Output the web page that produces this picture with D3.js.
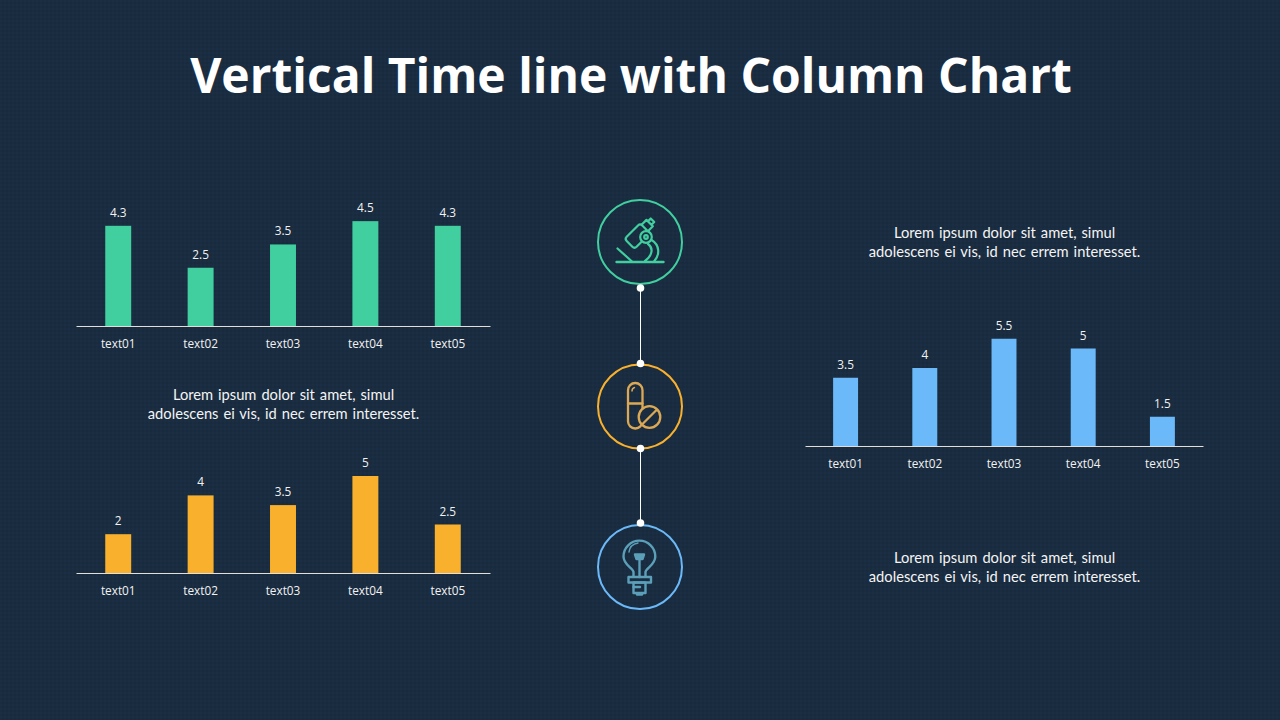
<!DOCTYPE html>
<html>
<head>
<meta charset="utf-8">
<title>Vertical Time line with Column Chart</title>
<script src="https://cdn.jsdelivr.net/npm/d3@7"></script>
<style>
    html, body { margin: 0; padding: 0; background: #1a2c40; }
    svg { display: block; }
    .label { font-family: "Open Sans", sans-serif; font-size: 11.8px; fill: #f2f2f2; }
    .blurb { font-family: Lato, sans-serif; font-size: 14.7px; fill: #f4f4f4; word-spacing: 1.2px; }
</style>
</head>
<body>
<svg id="chart" width="1280" height="720"></svg>
<script>
var categories = ["text01", "text02", "text03", "text04", "text05"];
var greenValues = [4.3, 2.5, 3.5, 4.5, 4.3];
var orangeValues = [2, 4, 3.5, 5, 2.5];
var blueValues = [3.5, 4, 5.5, 5, 1.5];
var blurbLines = ["Lorem  ipsum  dolor  sit amet,  simul", "adolescens ei vis, id nec errem  interesset."];

var GREEN = "#41cfa0", ORANGE = "#f9b12d", BLUE = "#6bb9f8";
var svg = d3.select("#chart");

// faint weave on the slide background
var pattern = svg.append("defs").append("pattern")
    .attr("id", "weave").attr("width", 4).attr("height", 4)
    .attr("patternUnits", "userSpaceOnUse");
pattern.append("rect").attr("width", 4).attr("height", 4).attr("fill", "#1a2c40");
pattern.append("rect").attr("width", 2).attr("height", 2).attr("fill", "#1c2e43");
pattern.append("rect").attr("x", 2).attr("y", 2).attr("width", 2).attr("height", 2).attr("fill", "#182a3d");
svg.append("rect").attr("width", 1280).attr("height", 720).attr("fill", "url(#weave)");

svg.append("text")
    .attr("x", 631).attr("y", 93)
    .attr("text-anchor", "middle")
    .style("font-family", '"Open Sans", sans-serif')
    .style("font-size", "48px")
    .style("font-weight", 700)
    .style("fill", "#ffffff")
    .text("Vertical Time line with Column Chart");

function drawColumns(values, color, x0, x1, baseline, pxPerUnit) {
    var x = d3.scaleBand().domain(categories).range([x0, x1]).paddingInner(0.685).paddingOuter(0.355);
    var y = d3.scaleLinear().domain([0, 6]).range([baseline, baseline - 6 * pxPerUnit]);

    svg.append("g").selectAll("rect").data(values).enter().append("rect")
        .attr("x", function(d, i){ return x(categories[i]); })
        .attr("y", function(d){ return y(d); })
        .attr("width", x.bandwidth())
        .attr("height", function(d){ return baseline - y(d); })
        .attr("fill", color);

    svg.append("g").selectAll("text").data(values).enter().append("text")
        .attr("class", "label")
        .attr("text-anchor", "middle")
        .attr("x", function(d, i){ return x(categories[i]) + x.bandwidth() / 2; })
        .attr("y", function(d){ return y(d) - 9; })
        .text(function(d){ return d; });

    var axis = svg.append("g")
        .attr("transform", "translate(0," + baseline + ")")
        .call(d3.axisBottom(x).tickSize(0).tickPadding(13.5));
    axis.select(".domain").attr("stroke", "#e2dfdb").attr("stroke-width", 1);
    axis.selectAll("text").attr("class", "label").attr("font-family", null).attr("font-size", null);
}

drawColumns(greenValues, GREEN, 76, 490, 326, 23.3);
drawColumns(orangeValues, ORANGE, 76, 490, 573, 19.4);
drawColumns(blueValues, BLUE, 805, 1203, 446, 19.5);

function drawBlurb(cx, y) {
    svg.append("g").selectAll("text").data(blurbLines).enter().append("text")
        .attr("class", "blurb")
        .attr("text-anchor", "middle")
        .attr("x", cx)
        .attr("y", function(d, i){ return y + i * 19; })
        .text(function(d){ return d; });
}

drawBlurb(283.5, 400);
drawBlurb(1004.5, 238);
drawBlurb(1004.5, 563);

// timeline in the middle
var timelineX = 640.5;
svg.append("line").attr("x1", timelineX).attr("x2", timelineX).attr("y1", 288).attr("y2", 364)
    .attr("stroke", "#ffffff").attr("stroke-width", 1);
svg.append("line").attr("x1", timelineX).attr("x2", timelineX).attr("y1", 448).attr("y2", 523)
    .attr("stroke", "#ffffff").attr("stroke-width", 1);

function ring(cy, color) {
    svg.append("circle").attr("cx", 640).attr("cy", cy).attr("r", 42)
        .attr("fill", "none").attr("stroke", color).attr("stroke-width", 2);
}
ring(242, GREEN);
ring(406.5, ORANGE);
ring(567, BLUE);

[288, 363.5, 448.5, 523].forEach(function(cy){
    svg.append("circle").attr("cx", timelineX).attr("cy", cy).attr("r", 3.8).attr("fill", "#ffffff");
});

function iconGroup(color, width) {
    return svg.append("g")
        .attr("fill", "none").attr("stroke", color).attr("stroke-width", width)
        .attr("stroke-linecap", "round").attr("stroke-linejoin", "round");
}

// microscope
var scope = iconGroup(GREEN, 2.2);
scope.append("path").attr("d", "M616.5 262H663.5").attr("stroke-width", 2.4);
scope.append("path").attr("d", "M617.5 248.5L632 261.5");
scope.append("g").attr("transform", "rotate(-45 638 234)").call(function(g){
    g.append("rect").attr("x", 625).attr("y", 228).attr("width", 22).attr("height", 14).attr("rx", 3);
    g.append("path").attr("d", "M647 230H654V239H647M654 232H658V237H654");
});
scope.append("circle").attr("cx", 646).attr("cy", 237).attr("r", 5.8).attr("fill", "#1a2c40");
scope.append("circle").attr("cx", 646).attr("cy", 237).attr("r", 1.8);
scope.append("path").attr("d", "M648 244C654 248 652 256 645 261");
scope.append("path").attr("d", "M651.5 240C660 245 660 255 654 261.5");

// capsule with tablet
var pill = iconGroup("#dba956", 2.3);
pill.append("rect").attr("x", 628).attr("y", 383).attr("width", 14.5).attr("height", 45.5).attr("rx", 7.2);
pill.append("path").attr("d", "M628 403.5H642.5");
pill.append("path").attr("d", "M632 391C632 389 633 388 634.5 387.5").attr("stroke-width", 1.5);
pill.append("circle").attr("cx", 649.5).attr("cy", 417).attr("r", 10.8).attr("fill", "#1a2c40");
pill.append("path").attr("d", "M643 423.5L656 410.5");

// light bulb
var bulb = iconGroup("#5b9fb9", 2.4);
bulb.append("path").attr("d", "M633.5 576.5V572C633 568 623.5 565 623.5 556.5A15.9 15.9 0 0 1 655.3 556.5C655.3 565 646 568 645.5 572V576.5");
bulb.append("path").attr("d", "M629 552C629.5 547 633 544 638 543").attr("stroke-width", 1.5);
bulb.append("path").attr("d", "M639.5 560V577");
bulb.append("path").attr("d", "M635 554.5H644L642.5 559H636.5Z").attr("fill", "#5b9fb9");
bulb.append("rect").attr("x", 628.5).attr("y", 577).attr("width", 22.5).attr("height", 5.5);
bulb.append("rect").attr("x", 633.5).attr("y", 582.5).attr("width", 12).attr("height", 10.5);
bulb.append("path").attr("d", "M633.5 587H640");
bulb.append("path").attr("d", "M637 594.5H642");
</script>
</body>
</html>
